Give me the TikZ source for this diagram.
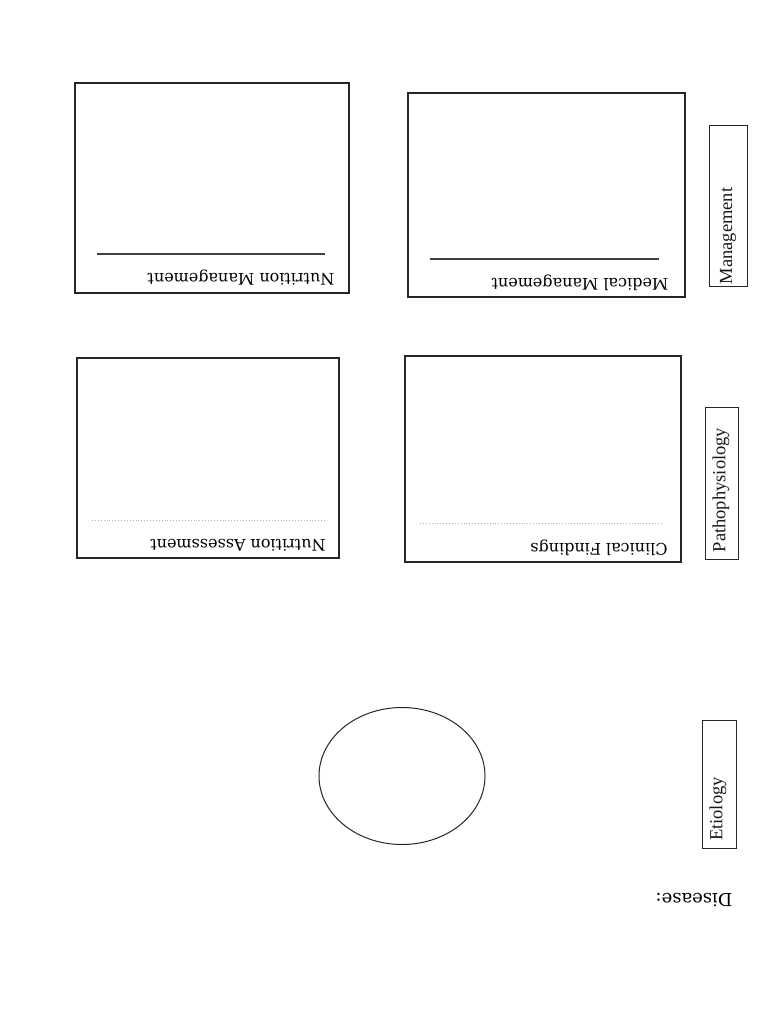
\documentclass[tikz,border=0pt]{standalone}
\usepackage{fontspec}
\setmainfont{Liberation Serif}
\newfontfamily\titlefont{DejaVu Serif}
\usetikzlibrary{shapes.geometric}
\tikzset{
  titletext/.style={font=\titlefont\fontsize{16}{19}\selectfont, rotate=180, inner sep=0pt, text=black},
  tagtext/.style={font=\fontsize{18.5}{22}\selectfont, rotate=90, inner sep=0pt, text=black!90},
  panelline/.style={line width=1.1pt, draw=black!85},
  tagline/.style={line width=1pt, draw=black!85},
  rule/.style={line width=1.2pt, draw=black!75},
  faintrule/.style={line width=0.9pt, draw=black!30, dotted},
}
\begin{document}
\begin{tikzpicture}[x=1pt,y=-1pt]
\useasboundingbox (0,0) rectangle (768,1024);
% panels
\draw[panelline] (75,83) rectangle (349,293);
\draw[panelline] (408,93) rectangle (685,297);
\draw[panelline] (77,358) rectangle (339,558);
\draw[panelline] (405,356) rectangle (681,562);
% rules
\draw[rule] (97,254) coordinate (nmA) -- (325,254) coordinate (nmB);
\draw[rule] (430,259) coordinate (mmA) -- (659,259) coordinate (mmB);
\draw[faintrule] (92,520) coordinate (naA) -- (325,520) coordinate (naB);
\draw[faintrule] (420,523) coordinate (cfA) -- (663,523) coordinate (cfB);
% titles (upside down)
\node[titletext] (nmt) at (241,278) {Nutrition Management};
\node[titletext] (mmt) at (580,283) {Medical Management};
\node[titletext] (nat) at (238,545) {Nutrition Assessment};
\node[titletext] (cft) at (599,548) {Clinical Findings};
% side tags
\draw[tagline] (709,126) rectangle (747,286);
\node[tagtext] (mg) at (728,236) {Management};
\draw[tagline] (705,407) rectangle (738,559);
\node[tagtext] (pp) at (721,490) {Pathophysiology};
\draw[tagline] (702,720) rectangle (736,848);
\node[tagtext] (et) at (718,809) {Etiology};
% ellipse
\node[ellipse, draw=black!85, line width=1pt, minimum width=166pt, minimum height=137pt, inner sep=0pt] (ell) at (402,776) {};
% disease label
\node[font=\titlefont\fontsize{18}{21}\selectfont, rotate=180, inner sep=0pt, text=black] (dis) at (694,900) {Disease:};
\end{tikzpicture}
\end{document}
